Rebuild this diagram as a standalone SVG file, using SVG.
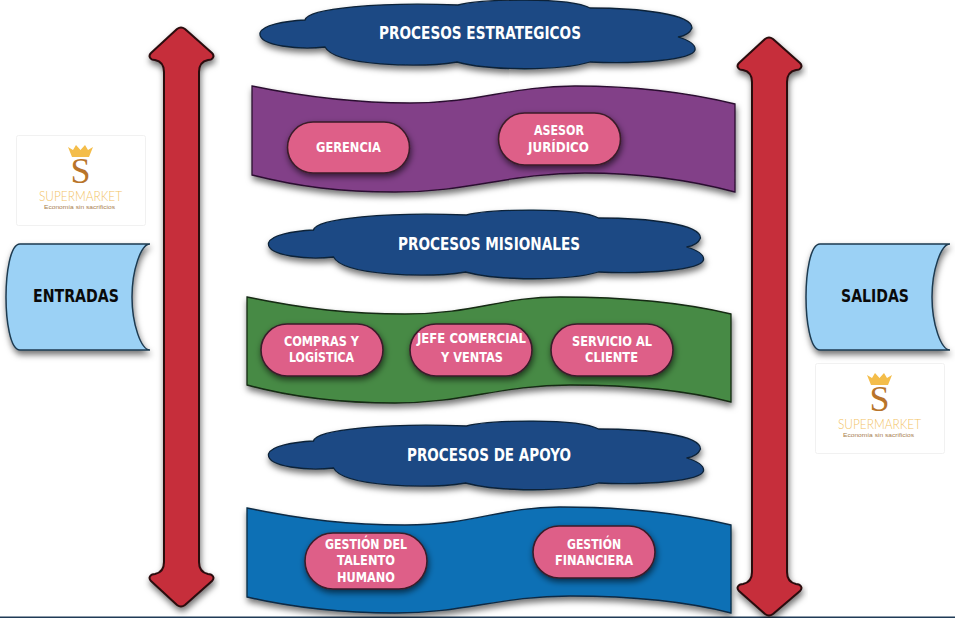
<svg xmlns="http://www.w3.org/2000/svg" xmlns:xlink="http://www.w3.org/1999/xlink" width="955" height="618" viewBox="0 0 955 618">
<style>
text{font-family:"DejaVu Sans","Liberation Sans",sans-serif;font-weight:bold;text-anchor:middle}
.w{fill:#fff;font-size:13.500px}
.h{fill:#fff;font-size:18px}
.k{fill:#0a0a0a;font-size:18px}
.cloud{fill:#1b4a84;stroke:#0d2238;stroke-width:1.3;filter:url(#sh)}
.pill{fill:#de5e88;stroke:#3a1c2a;stroke-width:1.6;filter:url(#sh2)}
.wave{stroke-width:1.3;filter:url(#sh)}
.arrow{fill:#c62d3b;stroke:#2a0a0e;stroke-width:2;stroke-linejoin:round;filter:url(#sh)}
.store{fill:#9bd1f5;stroke:#1e3a50;stroke-width:1.500;filter:url(#sh)}
.logobox{fill:#fff;stroke:#f1f1f1;stroke-width:1}
.sm{font-family:"Lato","Liberation Sans",sans-serif;font-weight:300;fill:#f3c365;font-size:13px}
.tag{font-family:"Liberation Sans",sans-serif;font-weight:normal;fill:#a8804e;font-size:5.500px}
.s{font-family:"Liberation Serif",serif;font-weight:normal;fill:#b8742a;font-size:36px}
</style>
<defs>
<filter id="sh" x="-10%" y="-20%" width="120%" height="145%"><feDropShadow dx="1" dy="4" stdDeviation="3" flood-color="#000" flood-opacity=".55"/></filter>
<filter id="sh2" x="-15%" y="-20%" width="130%" height="150%"><feDropShadow dx="1" dy="3" stdDeviation="3" flood-color="#000" flood-opacity=".6"/></filter>
<path id="cl" d="M260,33C262,25 285,21 305,20C308,8 380,2 458,5C480,-1 570,-3 590,8C640,8 692,14 692,28C690,33 685,36 678,37C688,40 696,44 695,50C692,60 640,64 590,62C560,71 490,71 457,62C420,68 335,66 325,47C300,50 258,46 260,33Z"/>
<path id="st" d="M20,244L150,244C141,244 132,270 132,297C132,324 141,350 150,350L20,350C10,350 6,320 6,297C6,274 10,244 20,244Z"/>
<polygon id="cr" points="68,151 73,154 76,149 80.500,154 85,149 88,154 93,151 89,161 72,161" fill="#f4bd4a"/>
</defs>
<rect width="955" height="618" fill="#fff"/>
<rect x="0" y="616.500" width="955" height="1.500" fill="#1f3b57"/>
<g id="connectors">
<path class="arrow" d="M164,72C164,65 160,61 155,60C150,60 148,56 151,53L177,29Q181,26 185,29L212,53C215,56 213,60 208,60C203,61 199,65 199,72L199,562C199,569 203,573 208,574C213,574 215,578 212,581L185,605Q181,608 177,605L151,581C148,578 150,574 155,574C160,573 164,569 164,562Z"/>
<path class="arrow" d="M752,82C752,75 748,71 743,70C738,70 736,66 739,63L765,39Q769,36 773,39L800,63C803,66 801,70 796,70C791,71 787,75 787,82L787,572C787,579 791,583 796,584C801,584 803,588 800,591L773,614Q769,617 765,614L739,591C736,588 738,584 743,584C748,583 752,579 752,572Z"/>
</g>
<g id="logo-entradas">
<rect class="logobox" x="16.500" y="135.500" width="129" height="90" rx="2"/>
<use xlink:href="#cr" href="#cr" transform="translate(0,-4)"/>
<text class="s" x="80.500" y="183">S</text>
<text class="sm" x="80.500" y="201" textLength="83" lengthAdjust="spacingAndGlyphs">SUPERMARKET</text>
<text class="tag" x="79.500" y="208.500" textLength="71" lengthAdjust="spacingAndGlyphs">Economía sin sacrificios</text>
</g>
<g id="logo-salidas" transform="translate(799,228)">
<rect class="logobox" x="16.500" y="135.500" width="129" height="90" rx="2"/>
<use xlink:href="#cr" href="#cr" transform="translate(0,-4)"/>
<text class="s" x="80.500" y="183">S</text>
<text class="sm" x="80.500" y="201" textLength="83" lengthAdjust="spacingAndGlyphs">SUPERMARKET</text>
<text class="tag" x="79.500" y="208.500" textLength="71" lengthAdjust="spacingAndGlyphs">Economía sin sacrificios</text>
</g>
<g id="entradas"><use class="store" xlink:href="#st" href="#st"/><text class="k" x="76" y="302" textLength="86" lengthAdjust="spacingAndGlyphs">ENTRADAS</text></g>
<g id="salidas"><use class="store" xlink:href="#st" href="#st" transform="translate(800,0)"/><text class="k" x="875" y="302" textLength="68" lengthAdjust="spacingAndGlyphs">SALIDAS</text></g>
<g id="procesos-estrategicos"><use class="cloud" xlink:href="#cl" href="#cl"/><text class="h" x="480" y="39" textLength="202" lengthAdjust="spacingAndGlyphs">PROCESOS ESTRATEGICOS</text></g>
<g id="banda-estrategica"><path class="wave" fill="#823f88" stroke="#2c1030" d="M252,86C310,98 360,103 410,103C480,103 510,86 575,86C640,86 690,93 735,104L735,192C690,180 640,173 585,173C510,173 470,192 395,192C340,192 300,187 252,175Z"/></g>
<g id="gerencia"><rect class="pill" x="287.500" y="122" width="122" height="51" rx="25.500"/><text class="w" x="348.500" y="152" textLength="65" lengthAdjust="spacingAndGlyphs">GERENCIA</text></g>
<g id="asesor"><rect class="pill" x="498.500" y="113" width="122" height="52" rx="26"/><text class="w" x="559" y="135" textLength="50" lengthAdjust="spacingAndGlyphs">ASESOR</text><text class="w" x="558.500" y="152" textLength="61" lengthAdjust="spacingAndGlyphs">JURÍDICO</text></g>
<g id="procesos-misionales"><use class="cloud" xlink:href="#cl" href="#cl" transform="translate(8.500,210)"/><text class="h" x="489" y="250" textLength="182" lengthAdjust="spacingAndGlyphs">PROCESOS MISIONALES</text></g>
<g id="banda-misional"><path class="wave" fill="#478a44" stroke="#142a12" d="M247,297C305,309 350,314 405,314C475,314 500,297 560,297C630,297 685,303 731,314L731,402C685,390 630,385 570,385C500,385 465,403 395,403C340,403 295,398 247,385Z"/></g>
<g id="compras"><rect class="pill" x="261" y="324" width="122" height="52" rx="26"/><text class="w" x="321.500" y="346" textLength="75" lengthAdjust="spacingAndGlyphs">COMPRAS Y</text><text class="w" x="321.500" y="362" textLength="65" lengthAdjust="spacingAndGlyphs">LOGÍSTICA</text></g>
<g id="jefe"><rect class="pill" x="410" y="324" width="122" height="52" rx="26"/><text class="w" x="471.500" y="343" textLength="109" lengthAdjust="spacingAndGlyphs">JEFE COMERCIAL</text><text class="w" x="472" y="362" textLength="62" lengthAdjust="spacingAndGlyphs">Y VENTAS</text></g>
<g id="servicio"><rect class="pill" x="551" y="324" width="122" height="52" rx="26"/><text class="w" x="612" y="346" textLength="80" lengthAdjust="spacingAndGlyphs">SERVICIO AL</text><text class="w" x="611.500" y="362" textLength="53" lengthAdjust="spacingAndGlyphs">CLIENTE</text></g>
<g id="procesos-apoyo"><use class="cloud" xlink:href="#cl" href="#cl" transform="translate(8.500,421)"/><text class="h" x="489" y="461" textLength="164" lengthAdjust="spacingAndGlyphs">PROCESOS DE APOYO</text></g>
<g id="banda-apoyo"><path class="wave" fill="#0f70b5" stroke="#0a2a44" d="M247,508C305,520 350,525 405,525C475,525 500,507 560,507C630,507 685,514 731,525L731,613C685,601 630,596 570,596C500,596 465,613 395,613C340,613 295,608 247,597Z"/></g>
<g id="talento"><rect class="pill" x="305" y="533" width="122" height="56" rx="28"/><text class="w" x="366" y="549" textLength="82" lengthAdjust="spacingAndGlyphs">GESTIÓN DEL</text><text class="w" x="366" y="565" textLength="58" lengthAdjust="spacingAndGlyphs">TALENTO</text><text class="w" x="366" y="582" textLength="58" lengthAdjust="spacingAndGlyphs">HUMANO</text></g>
<g id="financiera"><rect class="pill" x="533" y="526" width="122" height="52" rx="26"/><text class="w" x="594" y="549" textLength="54" lengthAdjust="spacingAndGlyphs">GESTIÓN</text><text class="w" x="594" y="565" textLength="78" lengthAdjust="spacingAndGlyphs">FINANCIERA</text></g>
</svg>
